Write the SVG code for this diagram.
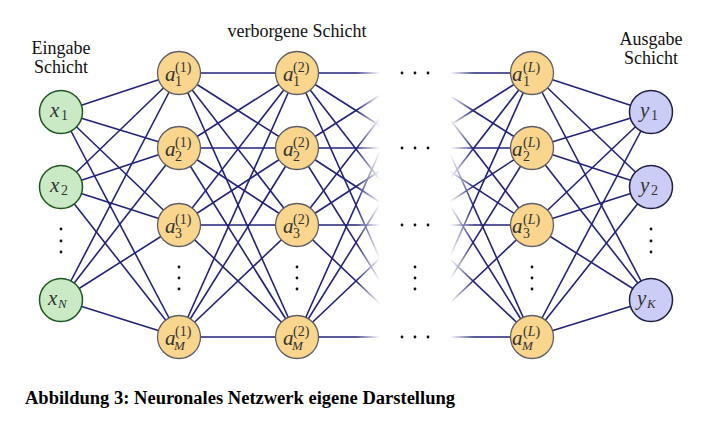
<svg xmlns="http://www.w3.org/2000/svg" width="720" height="423" viewBox="0 0 720 423">
<style>
.c line{stroke:#22227a;stroke-width:1.6;fill:none}
.in{fill:#c9eac5;stroke:#1f551f;stroke-width:1.5}
.hd{fill:#f9d58d;stroke:#5f5f66;stroke-width:1.3}
.out{fill:#cccdf6;stroke:#1f1f45;stroke-width:1.5}
text{font-family:"Liberation Serif","Times New Roman",serif;fill:#222}
.m{font-style:italic;font-size:21px;fill:#333}
.s{font-size:14px;fill:#333}
.si{font-size:13px;font-style:italic;fill:#333}
.lb{font-size:18px;text-anchor:middle;fill:#111}
.cap{font-size:18px;font-weight:bold;fill:#000}
.d{fill:#111}
</style>
<defs>
<linearGradient id="gR" gradientUnits="userSpaceOnUse" x1="356" y1="0" x2="380" y2="0">
<stop offset="0" stop-color="#fff"/><stop offset="1" stop-color="#000"/>
</linearGradient>
<linearGradient id="gL" gradientUnits="userSpaceOnUse" x1="450" y1="0" x2="474" y2="0">
<stop offset="0" stop-color="#000"/><stop offset="1" stop-color="#fff"/>
</linearGradient>
<mask id="mR" maskUnits="userSpaceOnUse" x="0" y="0" width="720" height="423">
<rect x="0" y="0" width="720" height="423" fill="url(#gR)"/>
</mask>
<mask id="mL" maskUnits="userSpaceOnUse" x="0" y="0" width="720" height="423">
<rect x="0" y="0" width="720" height="423" fill="url(#gL)"/>
</mask>
</defs>
<rect width="720" height="423" fill="#fff"/>

<g id="connectors" class="c">
<line x1="61" y1="112" x2="179" y2="73"/><line x1="61" y1="112" x2="179" y2="148"/><line x1="61" y1="112" x2="179" y2="225"/><line x1="61" y1="112" x2="179" y2="337"/>
<line x1="61" y1="187" x2="179" y2="73"/><line x1="61" y1="187" x2="179" y2="148"/><line x1="61" y1="187" x2="179" y2="225"/><line x1="61" y1="187" x2="179" y2="337"/>
<line x1="61" y1="300" x2="179" y2="73"/><line x1="61" y1="300" x2="179" y2="148"/><line x1="61" y1="300" x2="179" y2="225"/><line x1="61" y1="300" x2="179" y2="337"/>
<line x1="179" y1="73" x2="297" y2="73"/><line x1="179" y1="73" x2="297" y2="148"/><line x1="179" y1="73" x2="297" y2="225"/><line x1="179" y1="73" x2="297" y2="337"/>
<line x1="179" y1="148" x2="297" y2="73"/><line x1="179" y1="148" x2="297" y2="148"/><line x1="179" y1="148" x2="297" y2="225"/><line x1="179" y1="148" x2="297" y2="337"/>
<line x1="179" y1="225" x2="297" y2="73"/><line x1="179" y1="225" x2="297" y2="148"/><line x1="179" y1="225" x2="297" y2="225"/><line x1="179" y1="225" x2="297" y2="337"/>
<line x1="179" y1="337" x2="297" y2="73"/><line x1="179" y1="337" x2="297" y2="148"/><line x1="179" y1="337" x2="297" y2="225"/><line x1="179" y1="337" x2="297" y2="337"/>
<g mask="url(#mR)">
<line x1="297" y1="73" x2="415" y2="73"/><line x1="297" y1="73" x2="415" y2="148"/><line x1="297" y1="73" x2="415" y2="225"/><line x1="297" y1="73" x2="415" y2="337"/>
<line x1="297" y1="148" x2="415" y2="73"/><line x1="297" y1="148" x2="415" y2="148"/><line x1="297" y1="148" x2="415" y2="225"/><line x1="297" y1="148" x2="415" y2="337"/>
<line x1="297" y1="225" x2="415" y2="73"/><line x1="297" y1="225" x2="415" y2="148"/><line x1="297" y1="225" x2="415" y2="225"/><line x1="297" y1="225" x2="415" y2="337"/>
<line x1="297" y1="337" x2="415" y2="73"/><line x1="297" y1="337" x2="415" y2="148"/><line x1="297" y1="337" x2="415" y2="225"/><line x1="297" y1="337" x2="415" y2="337"/>
</g>
<g mask="url(#mL)">
<line x1="414" y1="73" x2="532" y2="73"/><line x1="414" y1="73" x2="532" y2="148"/><line x1="414" y1="73" x2="532" y2="225"/><line x1="414" y1="73" x2="532" y2="337"/>
<line x1="414" y1="148" x2="532" y2="73"/><line x1="414" y1="148" x2="532" y2="148"/><line x1="414" y1="148" x2="532" y2="225"/><line x1="414" y1="148" x2="532" y2="337"/>
<line x1="414" y1="225" x2="532" y2="73"/><line x1="414" y1="225" x2="532" y2="148"/><line x1="414" y1="225" x2="532" y2="225"/><line x1="414" y1="225" x2="532" y2="337"/>
<line x1="414" y1="337" x2="532" y2="73"/><line x1="414" y1="337" x2="532" y2="148"/><line x1="414" y1="337" x2="532" y2="225"/><line x1="414" y1="337" x2="532" y2="337"/>
</g>
<line x1="532" y1="73" x2="651" y2="112"/><line x1="532" y1="73" x2="651" y2="187"/><line x1="532" y1="73" x2="651" y2="300"/>
<line x1="532" y1="148" x2="651" y2="112"/><line x1="532" y1="148" x2="651" y2="187"/><line x1="532" y1="148" x2="651" y2="300"/>
<line x1="532" y1="225" x2="651" y2="112"/><line x1="532" y1="225" x2="651" y2="187"/><line x1="532" y1="225" x2="651" y2="300"/>
<line x1="532" y1="337" x2="651" y2="112"/><line x1="532" y1="337" x2="651" y2="187"/><line x1="532" y1="337" x2="651" y2="300"/>
</g>

<text class="lb" x="61" y="54">Eingabe</text>
<text class="lb" x="61" y="73">Schicht</text>
<text class="lb" x="297" y="37">verborgene Schicht</text>
<text class="lb" x="651" y="45">Ausgabe</text>
<text class="lb" x="651" y="64">Schicht</text>

<g id="x1"><circle class="in" cx="61" cy="112" r="21.5"/><text class="m" x="50" y="117">x</text><text class="s" x="61" y="120">1</text></g>
<g id="x2"><circle class="in" cx="61" cy="187" r="21.5"/><text class="m" x="50" y="192">x</text><text class="s" x="61" y="195">2</text></g>
<g id="xN"><circle class="in" cx="61" cy="300" r="21.5"/><text class="m" x="48" y="305">x</text><text class="si" x="58" y="308">N</text></g>

<g id="a1_1"><circle class="hd" cx="179" cy="73" r="21.5"/><text class="m" x="165" y="81">a</text><text class="s" x="175" y="72">(1)</text><text class="s" x="175" y="86">1</text></g>
<g id="a2_1"><circle class="hd" cx="179" cy="148" r="21.5"/><text class="m" x="165" y="156">a</text><text class="s" x="175" y="147">(1)</text><text class="s" x="175" y="161">2</text></g>
<g id="a3_1"><circle class="hd" cx="179" cy="225" r="21.5"/><text class="m" x="165" y="233">a</text><text class="s" x="175" y="224">(1)</text><text class="s" x="175" y="238">3</text></g>
<g id="aM_1"><circle class="hd" cx="179" cy="337" r="21.5"/><text class="m" x="165" y="345">a</text><text class="s" x="175" y="336">(1)</text><text class="si" x="174" y="350">M</text></g>

<g id="a1_2"><circle class="hd" cx="297" cy="73" r="21.5"/><text class="m" x="283" y="81">a</text><text class="s" x="293" y="72">(2)</text><text class="s" x="293" y="86">1</text></g>
<g id="a2_2"><circle class="hd" cx="297" cy="148" r="21.5"/><text class="m" x="283" y="156">a</text><text class="s" x="293" y="147">(2)</text><text class="s" x="293" y="161">2</text></g>
<g id="a3_2"><circle class="hd" cx="297" cy="225" r="21.5"/><text class="m" x="283" y="233">a</text><text class="s" x="293" y="224">(2)</text><text class="s" x="293" y="238">3</text></g>
<g id="aM_2"><circle class="hd" cx="297" cy="337" r="21.5"/><text class="m" x="283" y="345">a</text><text class="s" x="293" y="336">(2)</text><text class="si" x="292" y="350">M</text></g>

<g id="a1_L"><circle class="hd" cx="532" cy="73" r="21.5"/><text class="m" x="512" y="81">a</text><text class="s" x="523" y="72">(<tspan font-style="italic">L</tspan>)</text><text class="s" x="523" y="86">1</text></g>
<g id="a2_L"><circle class="hd" cx="532" cy="148" r="21.5"/><text class="m" x="512" y="156">a</text><text class="s" x="523" y="147">(<tspan font-style="italic">L</tspan>)</text><text class="s" x="523" y="161">2</text></g>
<g id="a3_L"><circle class="hd" cx="532" cy="225" r="21.5"/><text class="m" x="512" y="233">a</text><text class="s" x="523" y="224">(<tspan font-style="italic">L</tspan>)</text><text class="s" x="523" y="238">3</text></g>
<g id="aM_L"><circle class="hd" cx="532" cy="337" r="21.5"/><text class="m" x="512" y="345">a</text><text class="s" x="523" y="336">(<tspan font-style="italic">L</tspan>)</text><text class="si" x="522" y="350">M</text></g>

<g id="y1"><circle class="out" cx="651" cy="112" r="21.5"/><text class="m" x="640" y="117">y</text><text class="s" x="651" y="120">1</text></g>
<g id="y2"><circle class="out" cx="651" cy="187" r="21.5"/><text class="m" x="640" y="192">y</text><text class="s" x="651" y="195">2</text></g>
<g id="yK"><circle class="out" cx="651" cy="300" r="21.5"/><text class="m" x="637" y="305">y</text><text class="si" x="647" y="308">K</text></g>

<g id="dots" class="d">
<circle cx="402" cy="73" r="1.4"/><circle cx="415" cy="73" r="1.4"/><circle cx="428" cy="73" r="1.4"/>
<circle cx="402" cy="148" r="1.4"/><circle cx="415" cy="148" r="1.4"/><circle cx="428" cy="148" r="1.4"/>
<circle cx="402" cy="225" r="1.4"/><circle cx="415" cy="225" r="1.4"/><circle cx="428" cy="225" r="1.4"/>
<circle cx="402" cy="337" r="1.4"/><circle cx="415" cy="337" r="1.4"/><circle cx="428" cy="337" r="1.4"/>
<circle cx="415" cy="267" r="1.4"/><circle cx="415" cy="278" r="1.4"/><circle cx="415" cy="289" r="1.4"/>
<circle cx="179" cy="267" r="1.4"/><circle cx="179" cy="278" r="1.4"/><circle cx="179" cy="289" r="1.4"/>
<circle cx="297" cy="267" r="1.4"/><circle cx="297" cy="278" r="1.4"/><circle cx="297" cy="289" r="1.4"/>
<circle cx="532" cy="267" r="1.4"/><circle cx="532" cy="278" r="1.4"/><circle cx="532" cy="289" r="1.4"/>
<circle cx="61" cy="229" r="1.4"/><circle cx="61" cy="241" r="1.4"/><circle cx="61" cy="252" r="1.4"/>
<circle cx="651" cy="229" r="1.4"/><circle cx="651" cy="241" r="1.4"/><circle cx="651" cy="252" r="1.4"/>
</g>

<text class="cap" x="25" y="404" textLength="430" lengthAdjust="spacingAndGlyphs">Abbildung 3: Neuronales Netzwerk eigene Darstellung</text>
</svg>
